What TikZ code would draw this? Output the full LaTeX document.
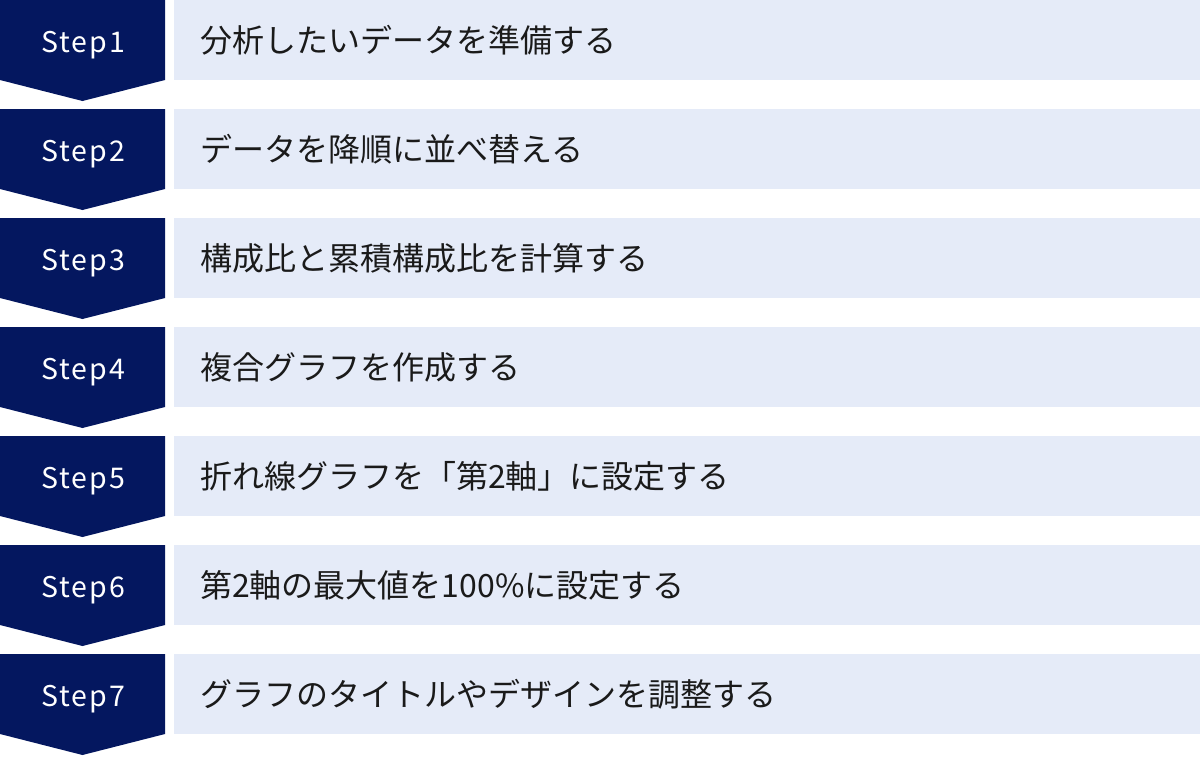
\documentclass[tikz,border=0pt]{standalone}
\usepackage{fontspec}
\newfontfamily\jpfont{Noto Sans CJK JP}
\newfontfamily\stepfont[LetterSpace=7]{Noto Sans CJK JP}
\definecolor{navy}{HTML}{04175F}
\definecolor{paleblue}{HTML}{E5EBF8}
\definecolor{ink}{HTML}{1A1A1A}

\begin{document}
\begin{tikzpicture}[x=1pt,y=-1pt,
    stepbox/.style={fill=navy},
    stepname/.style={text=white,anchor=base,inner sep=0pt,font=\stepfont\fontsize{28.5}{28.5}\selectfont},
    taskbar/.style={fill=paleblue},
    tasktext/.style={text=ink,anchor=base west,inner sep=0pt,font=\jpfont\fontsize{32}{32}\selectfont}]
    \useasboundingbox (0,0) rectangle (1200,756);
    \foreach \n/\task [count=\i from 0] in {1/分析したいデータを準備する,
        2/データを降順に並べ替える,
        3/構成比と累積構成比を計算する,
        4/複合グラフを作成する,
        5/折れ線グラフを「第2軸」に設定する,
        6/第2軸の最大値を100\%に設定する,
        7/グラフのタイトルやデザインを調整する}{
        \pgfmathsetmacro{\rowtop}{109*\i}
        \fill [stepbox] (0,\rowtop) -- (165,\rowtop) -- (165,\rowtop+80) -- (82.5,\rowtop+101) -- (0,\rowtop+80) -- cycle;
        \fill [taskbar] (174,\rowtop) rectangle (1200,\rowtop+80);
        \node [stepname] (step\n) at (83,\rowtop+52) {Step\n};
        \node [tasktext] (task\n) at (200,\rowtop+52) {\task};
    }
\end{tikzpicture}
\end{document}
